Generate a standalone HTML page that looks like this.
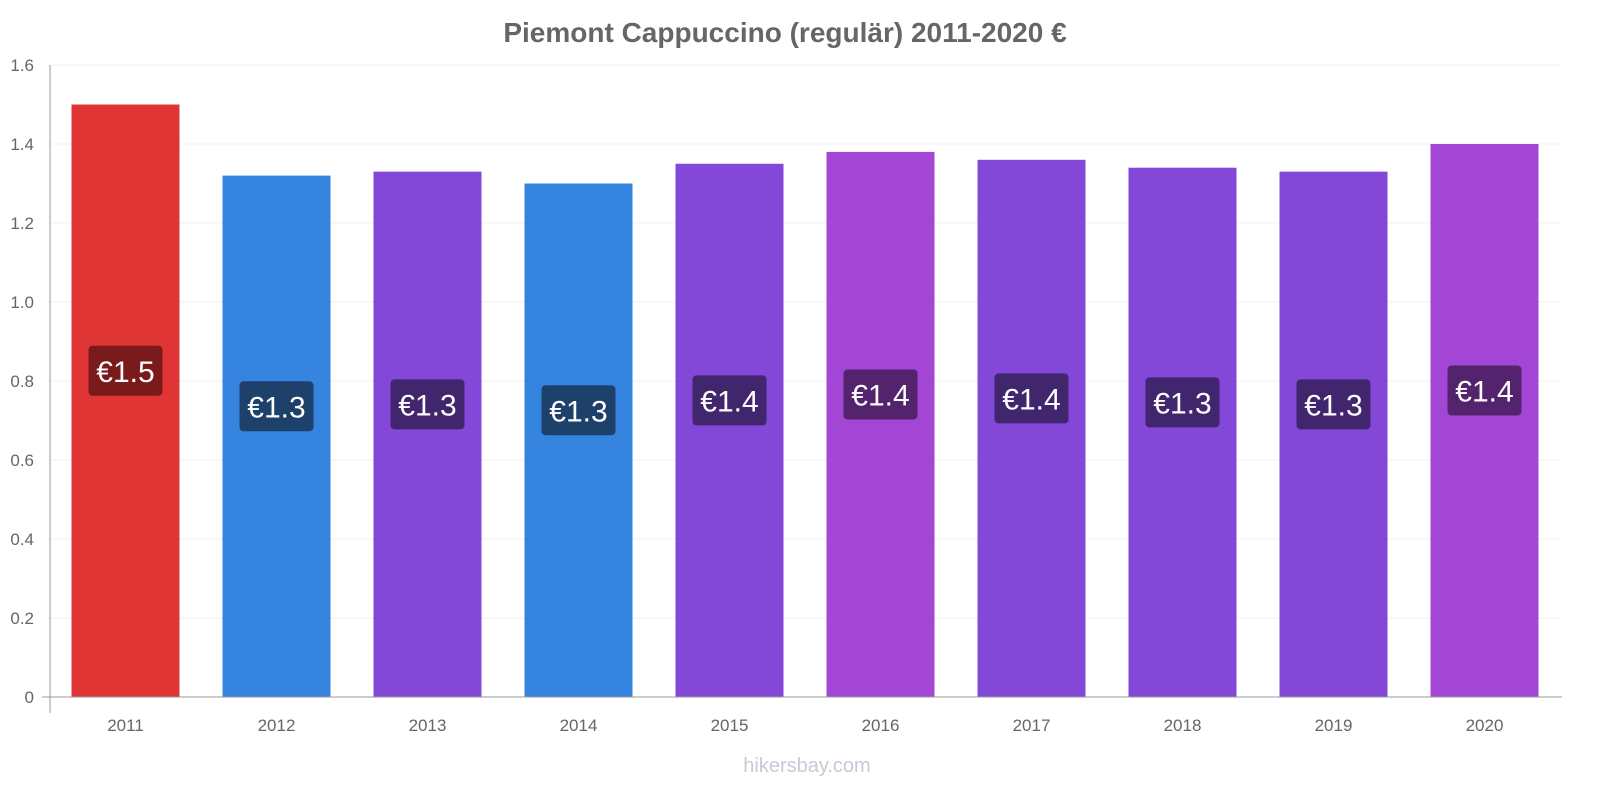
<!DOCTYPE html>
<html><head><meta charset="utf-8"><style>
html,body{margin:0;padding:0;background:#fff;font-family:"Liberation Sans",sans-serif;overflow:hidden;width:1600px;height:800px}
svg{display:block}
</style></head><body>
<svg width="1600" height="800" viewBox="0 0 1600 800" xmlns="http://www.w3.org/2000/svg">
<text x="785" y="42" text-anchor="middle" font-size="28" font-weight="bold" fill="#666">Piemont Cappuccino (regulär) 2011-2020 €</text>
<g id="grid"></g><g id="bars"></g>
<line x1="50" y1="65" x2="50" y2="713" stroke="#999"/>
<line x1="42" y1="697" x2="1562" y2="697" stroke="#999"/>
<text x="807" y="772" text-anchor="middle" font-size="20" fill="#c8c8d8">hikersbay.com</text>
</svg>
<script>
const categories=["2011","2012","2013","2014","2015","2016","2017","2018","2019","2020"];
const values=[1.5,1.32,1.33,1.30,1.35,1.38,1.36,1.34,1.33,1.40];
const labels=["€1.5","€1.3","€1.3","€1.3","€1.4","€1.4","€1.4","€1.3","€1.3","€1.4"];
const yTicks=[0,0.2,0.4,0.6,0.8,1.0,1.2,1.4,1.6];
const yTickLabels=["0","0.2","0.4","0.6","0.8","1.0","1.2","1.4","1.6"];
const colorKeys=["r","b","p","b","p","m","p","p","p","m"];
const fills={r:"#e03535",b:"#3584e0",p:"#8348d8",m:"#a346d6"};
const dark={r:"#7a1a1a",b:"#1d416a",p:"#41266e",m:"#53236e"};
const ns="http://www.w3.org/2000/svg";
const y=v=>697-v*395;
const slot=151, x=i=>50+slot*i+slot/2;
const grid=document.getElementById('grid'), bars=document.getElementById('bars');
function mk(tag,at,parent){const e=document.createElementNS(ns,tag);for(const k in at)e.setAttribute(k,at[k]);parent.appendChild(e);return e;}
yTicks.forEach((t,i)=>{
 const l=mk('line',{x1:50,x2:1560,y1:y(t),y2:y(t),stroke:"#f0f0f0"},grid);
 
 
 const tx=mk('text',{x:34,y:y(t)+6,"text-anchor":"end","font-size":17,fill:"#666"},grid);
 tx.textContent=yTickLabels[i];
 
 
});
categories.forEach((c,i)=>{
 const k=colorKeys[i];
 const b=mk('rect',{x:x(i)-54,y:y(values[i]),width:108,height:697-y(values[i]),fill:fills[k]},bars);
 
 
 const cy=(y(values[i])+697)/2-30;
 const bx=mk('rect',{x:x(i)-37,y:cy-25,width:74,height:50,rx:4,fill:dark[k]},bars);
 
 
 const t=mk('text',{x:x(i),y:cy+11,"text-anchor":"middle","font-size":30,fill:"#fff"},bars);
 t.textContent=labels[i];
 
 
 const xt=mk('text',{x:x(i),y:731,"text-anchor":"middle","font-size":17,fill:"#666"},bars);
 xt.textContent=c;
 
 
});
</script>
</body></html>
